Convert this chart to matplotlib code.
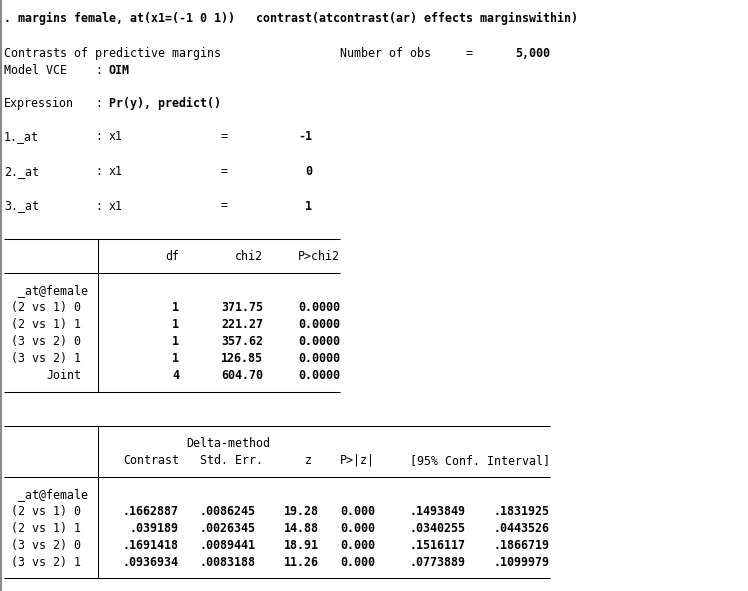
import matplotlib
matplotlib.use("Agg")
import matplotlib.pyplot as plt

# values as shown in the Stata results window
command = ". margins female, at(x1=(-1 0 1))   contrast(atcontrast(ar) effects marginswithin)"
n_obs = "5,000"
model_vce = "OIM"
expression = "Pr(y), predict()"
at_values = [-1, 0, 1]

row_labels = ["(2 vs 1) 0", "(2 vs 1) 1", "(3 vs 2) 0", "(3 vs 2) 1"]
chi_df = [1, 1, 1, 1, 4]
chi2 = [371.75, 221.27, 357.62, 126.85, 604.70]
p_chi2 = [0.0, 0.0, 0.0, 0.0, 0.0]

contrast = [.1662887, .039189, .1691418, .0936934]
std_err = [.0086245, .0026345, .0089441, .0083188]
z_val = [19.28, 14.88, 18.91, 11.26]
p_z = [0.0, 0.0, 0.0, 0.0]
ci_lo = [.1493849, .0340255, .1516117, .0773889]
ci_hi = [.1831925, .0443526, .1866719, .1099979]

X0 = 4.0   # left edge of column 0, px
CW = 7.0   # character width, px
FS = 8.37  # DejaVu Sans Mono size giving 7 px advance at 100 dpi
LW = 0.75

fig = plt.figure(figsize=(7.48, 5.91), dpi=100)
ax = fig.add_axes([0, 0, 1, 1])
ax.set_xlim(0, 748)
ax.set_ylim(591, 0)
ax.axis("off")


def put(col, y, s, bold=False):
    ax.text(X0 + CW * col, y, s, ha="left", va="baseline",
            family="DejaVu Sans Mono", fontsize=FS,
            fontweight="bold" if bold else "normal", color="#000000")


def put_r(end_col, y, s, bold=False):
    put(end_col - len(s), y, s, bold)


def g7(v):
    s = format(v, ".7g")
    return s[1:] if s.startswith("0.") else s


def hline(y, ncols):
    ax.plot([X0, X0 + CW * ncols], [y, y], color="black", lw=LW, solid_capstyle="butt")


def vline(y0, y1):
    x = X0 + CW * 13 + CW / 2
    ax.plot([x, x], [y0, y1], color="black", lw=LW, solid_capstyle="butt")


# window border on the left
ax.plot([1, 1], [0, 591], color="#8a8a8a", lw=1.5)

put(0, 22, command, bold=True)

put(0, 57, "Contrasts of predictive margins")
put(48, 57, "Number of obs")
put(66, 57, "=")
put_r(78, 57, n_obs, bold=True)

put(0, 73.5, "Model VCE")
put(13, 73.5, ":")
put(15, 73.5, model_vce, bold=True)

put(0, 107, "Expression")
put(13, 107, ":")
put(15, 107, expression, bold=True)

for i, v in enumerate(at_values):
    y = 140.5 + i * 34.5
    put(0, y, f"{i + 1}._at")
    put(13, y, ":")
    put(15, y, "x1")
    put(31, y, "=")
    put_r(44, y, str(v), bold=True)

# chi2 table
hline(238.5, 48)
hline(272.5, 48)
hline(391.5, 48)
vline(238.5, 391.5)
put_r(25, 260, "df")
put_r(37, 260, "chi2")
put_r(48, 260, "P>chi2")
put(2, 294, "_at@female")
for i in range(len(chi2)):
    y = 311 + i * 17
    lab = row_labels[i] if i < len(row_labels) else "Joint"
    put_r(11, y, lab)
    put_r(25, y, str(chi_df[i]), bold=True)
    put_r(37, y, f"{chi2[i]:.2f}", bold=True)
    put_r(48, y, f"{p_chi2[i]:.4f}", bold=True)

# contrast table
hline(425.5, 78)
hline(477, 78)
hline(578, 78)
vline(425.5, 578)
put(26, 447, "Delta-method")
put_r(25, 464, "Contrast")
put_r(37, 464, "Std. Err.")
put_r(44, 464, "z")
put_r(53, 464, "P>|z|")
put_r(78, 464, "[95% Conf. Interval]")
put(2, 498, "_at@female")
for i, lab in enumerate(row_labels):
    y = 515 + i * 17
    put_r(11, y, lab)
    put_r(25, y, g7(contrast[i]), bold=True)
    put_r(36, y, g7(std_err[i]), bold=True)
    put_r(45, y, f"{z_val[i]:.2f}", bold=True)
    put_r(53, y, f"{p_z[i]:.3f}", bold=True)
    put_r(66, y, g7(ci_lo[i]), bold=True)
    put_r(78, y, g7(ci_hi[i]), bold=True)

fig.savefig("out.png", dpi=100, facecolor="white")
